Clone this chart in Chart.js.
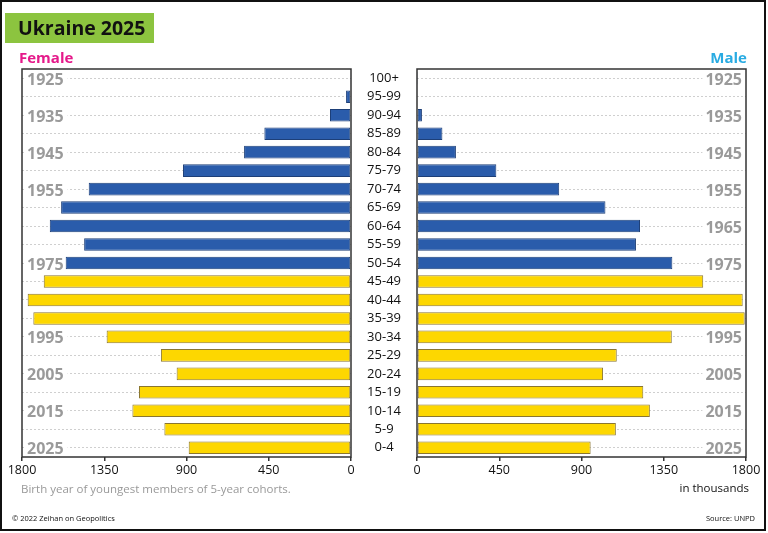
<!DOCTYPE html>
<html>
<head>
<meta charset="utf-8">
<script src="https://cdn.jsdelivr.net/npm/chart.js@4/dist/chart.umd.min.js"></script>
<style>
  body { margin: 0; background: #fff; font-family: 'Open Sans', sans-serif; }
  #page { position: relative; width: 768px; height: 533px; overflow: hidden; }
  #frame { position: absolute; left: 0; top: 0; width: 762px; height: 527px; border: 2px solid #111; }
  canvas { position: absolute; left: 0; top: 0; }
  .txt { position: absolute; white-space: nowrap; }
  #title { left: 5px; top: 13px; width: 149px; height: 30px; background: #8cc43f; }
  #title span { position: absolute; left: 13px; top: 1px; font-weight: 700; font-size: 19.5px; color: #111; }
</style>
</head>
<body>
<div id="page">
  <div id="frame"></div>
  <canvas id="female"></canvas>
  <canvas id="male"></canvas>
  <div id="title" class="txt"><span>Ukraine 2025</span></div>
  <div class="txt" style="left:19px;top:47px;font-size:15px;font-weight:700;color:#e5198a;">Female</div>
  <div class="txt" style="right:21px;top:47px;font-size:15px;font-weight:700;color:#29abe2;">Male</div>
  <div class="txt" style="left:21px;top:481px;font-size:11.5px;color:#999;">Birth year of youngest members of 5-year cohorts.</div>
  <div class="txt" style="right:19px;top:480px;font-size:11.5px;color:#111;">in thousands</div>
  <div class="txt" style="left:12px;top:513px;font-size:7.5px;color:#111;">© 2022 Zeihan on Geopolitics</div>
  <div class="txt" style="right:13px;top:513px;font-size:7.5px;color:#111;">Source: UNPD</div>
</div>
<script>
const ages = ['100+', '95-99', '90-94', '85-89', '80-84', '75-79', '70-74', '65-69', '60-64', '55-59',
  '50-54', '45-49', '40-44', '35-39', '30-34', '25-29', '20-24', '15-19', '10-14', '5-9', '0-4'];
const birthYears = ['1925', '', '1935', '', '1945', '', '1955', '', '1965', '', '1975', '',
  '1985', '', '1995', '', '2005', '', '2015', '', '2025'];
const female = [3, 27, 115, 474, 585, 919, 1435, 1586, 1648, 1460,
  1561, 1681, 1769, 1738, 1337, 1040, 954, 1160, 1196, 1021, 888];
const male = [2, 4, 27, 139, 213, 434, 778, 1031, 1220, 1198,
  1397, 1566, 1782, 1793, 1394, 1093, 1018, 1238, 1274, 1088, 950];
const xTicks = [0, 450, 900, 1350, 1800];

const W = 768, H = 533;
const font = "'Open Sans', sans-serif";

// blue for 50+, yellow for younger cohorts
const fillFor = (ctx) => ctx.dataIndex <= 10 ? '#2a5cab' : '#fdd700';
const lineFor = (ctx) => ctx.dataIndex <= 10 ? '#1d3f78' : '#8a7630';

function yearsPlugin(side) {
  return {
    id: 'years',
    beforeDatasetsDraw(chart) {
      const { ctx, chartArea } = chart;
      const x = chart.scales.x, y = chart.scales.y;
      const values = chart.data.datasets[0].data;
      ctx.save();
      ctx.font = 'bold 16px ' + font;
      ctx.textBaseline = 'middle';
      ctx.textAlign = 'left';
      birthYears.forEach((yr, i) => {
        if (!yr) return;
        const py = y.getPixelForValue(i);
        const w = ctx.measureText(yr).width;
        const lx = side === 'left' ? chartArea.left + 5 : chartArea.right - 4 - w;
        // a bar reaching into the label hides it
        const end = x.getPixelForValue(values[i]);
        if (side === 'left' ? end < lx + w + 1 : end > lx - 1) return;
        ctx.fillStyle = '#fff';
        ctx.fillRect(lx - 3, py - 7, w + 7, 15);
        ctx.fillStyle = '#9a9a9a';
        ctx.fillText(yr, lx, py + 2);
      });
      ctx.restore();
    },
    afterDatasetsDraw(chart) {
      const { ctx, chartArea } = chart;
      ctx.save();
      ctx.strokeStyle = '#333';
      ctx.lineWidth = 1.5;
      ctx.strokeRect(chartArea.left, chartArea.top, chartArea.right - chartArea.left, chartArea.bottom - chartArea.top);
      ctx.restore();
    }
  };
}

function makeChart(id, values, side) {
  const canvas = document.getElementById(id);
  canvas.width = W; canvas.height = H;
  const left = side === 'left';
  return new Chart(canvas.getContext('2d'), {
    type: 'bar',
    data: {
      labels: ages,
      datasets: [{
        data: values,
        backgroundColor: fillFor,
        borderColor: lineFor,
        borderWidth: 1,
        borderSkipped: false,
        barPercentage: 0.68,
        categoryPercentage: 1
      }]
    },
    options: {
      indexAxis: 'y',
      responsive: false,
      animation: false,
      devicePixelRatio: 1,
      layout: {
        padding: left
          ? { left: 22, right: W - 351, top: 69, bottom: H - 457 - 22 }
          : { left: 351, right: W - 746, top: 69, bottom: H - 457 - 22 }
      },
      plugins: { legend: { display: false }, tooltip: { enabled: false } },
      scales: {
        x: {
          type: 'linear',
          min: 0,
          max: 1800,
          reverse: left,
          afterBuildTicks: (s) => { s.ticks = xTicks.map(v => ({ value: v })); },
          afterFit: (s) => { s.height = 22; },
          grid: { drawOnChartArea: false, drawTicks: true, tickLength: 4, color: '#333', lineWidth: 1.5 },
          border: { display: false },
          ticks: {
            color: '#111',
            font: { family: font, size: 12.5 },
            padding: 2,
            maxRotation: 0,
            callback: (v) => String(v)
          }
        },
        y: {
          position: 'left',
          afterFit: (s) => { s.width = left ? 0 : 66; },
          grid: { offset: false, drawTicks: false, color: '#cfcfcf', lineWidth: 1 },
          border: { display: false, dash: [2, 2] },
          ticks: {
            display: !left,
            crossAlign: 'center',
            padding: 16,
            autoSkip: false,
            color: '#111',
            font: { family: font, size: 13 }
          }
        }
      }
    },
    plugins: [yearsPlugin(side)]
  });
}

makeChart('female', female, 'left');
makeChart('male', male, 'right');
</script>
</body>
</html>
